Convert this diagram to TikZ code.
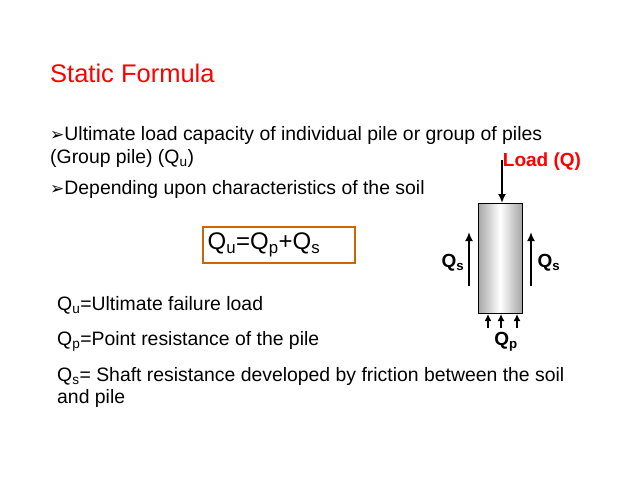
\documentclass[tikz,border=0pt]{standalone}
\usepackage{fontspec}
\setmainfont{Liberation Sans}
\newfontfamily\djv{DejaVu Sans}
\usetikzlibrary{arrows.meta}
\begin{document}
\begin{tikzpicture}[x=1pt,y=-1pt,
  txt/.style={anchor=west,inner sep=0pt,font=\fontsize{19.4}{22}\selectfont},
  lab/.style={inner sep=0pt,font=\bfseries\fontsize{19}{22}\selectfont},
  arr/.style={-{Latex[length=9pt,width=8pt]},line width=2.2pt}]
\useasboundingbox (0,0) rectangle (638,493);
\node[anchor=west,inner sep=0pt,text=red,font=\fontsize{25.5}{30}\selectfont] (title) at (50,73) {Static Formula};
\node[txt] (b1) at (50,135) {{\djv\fontsize{17}{19}\selectfont ➢}Ultimate load capacity of individual pile or group of piles};
\node[txt] (b1b) at (50,158) {(Group pile) (Q\textsubscript{u})};
\node[txt] (b2) at (50,189) {{\djv\fontsize{17}{19}\selectfont ➢}Depending upon characteristics of the soil};
\node[draw=orange!80!black,line width=1.3pt,minimum width=152pt,minimum height=36pt,inner sep=0pt] (f) at (279,245) {};
\node[inner sep=0pt,font=\fontsize{24}{28}\selectfont] at (264,245) {Q\textsubscript{u}=Q\textsubscript{p}+Q\textsubscript{s}};
\node[txt] (d1) at (57,305) {Q\textsubscript{u}=Ultimate failure load};
\node[txt] (d2) at (57,341) {Q\textsubscript{p}=Point resistance of the pile};
\node[txt] (d3) at (57,376) {Q\textsubscript{s}= Shaft resistance developed by friction between the soil};
\node[txt] (d4) at (57,398) {and pile};
% pile
\shade[left color=gray!70,right color=gray!70,middle color=white,draw=black,line width=0.6pt] (478,203) rectangle (522,313);
\coordinate (pt) at (502,203);
\coordinate (lt) at (502,160);
\draw[arr] (lt) -- (pt);
\node[lab,text=red] (load) at (542,162) {Load (Q)};
\coordinate (l1) at (469,286); \coordinate (l2) at (469,232);
\draw[arr] (l1) -- (l2);
\coordinate (r1) at (531,286); \coordinate (r2) at (531,232);
\draw[arr] (r1) -- (r2);
\node[lab] (qsl) at (453,263) {Q\textsubscript{s}};
\node[lab] (qsr) at (549,263) {Q\textsubscript{s}};
\foreach \x in {488,501,517}{\draw[-{Latex[length=7pt,width=7pt]},line width=1.8pt] (\x,328) -- (\x,314);}
\node[lab] (qp) at (506,342) {Q\textsubscript{p}};
\end{tikzpicture}
\end{document}
